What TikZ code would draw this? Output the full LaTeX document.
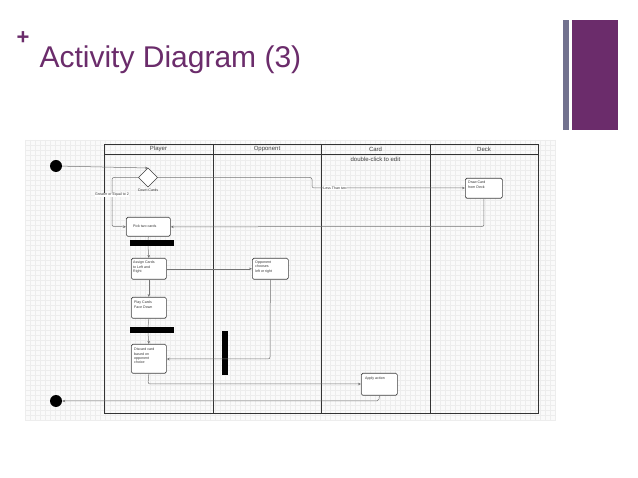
\documentclass[tikz,border=0pt]{standalone}
\usepackage{fontspec}
\setmainfont{Liberation Sans}
\usetikzlibrary{arrows.meta}
\definecolor{plum}{HTML}{6B2C6B}
\definecolor{slate}{HTML}{72728F}
\tikzset{
 act/.style={draw=black!75,line width=0.7pt,rounded corners=1.5pt,fill=white,anchor=north west,inner sep=0pt},
 txt/.style={anchor=north west,align=left,inner sep=0pt,font=\fontsize{3.6}{4.2}\selectfont,text=black!80},
 flow/.style={draw=black!55,line width=0.5pt,-{Stealth[length=3pt,width=2.5pt]},rounded corners=2pt},
 plain/.style={draw=black!55,line width=0.5pt,rounded corners=2pt},
 bar/.style={fill=black,draw=none},
 lane/.style={draw=black!80,line width=0.9pt},
 hdr/.style={font=\fontsize{6}{7}\selectfont,text=black!75},
 lbl/.style={font=\fontsize{3.6}{4}\selectfont,text=black!80,fill=white,inner sep=0.5pt},
}
\begin{document}
\begin{tikzpicture}[x=1pt,y=-1pt]
\useasboundingbox (0,0) rectangle (638,478);
\fill[white] (0,0) rectangle (638,478);
% title
\node[text=plum,font=\fontsize{22}{22}\selectfont\bfseries] (plus) at (23,38) {+};
\node[text=plum,font=\fontsize{30}{32}\selectfont,anchor=west] (title) at (36,60) {Activity Diagram (3)};
\fill[slate] (563,20) rectangle (569,130);
\fill[plum] (572,20) rectangle (618,130);
% grid
\fill[black!2] (25,140) rectangle (556,420);
\foreach \x in {25,30,...,555} \draw[black!7,line width=0.2pt] (\x,140) -- (\x,420);
\foreach \y in {140,145,...,420} \draw[black!7,line width=0.2pt] (25,\y) -- (556,\y);
% lanes
\draw[lane] (104,144) rectangle (538,413);
\draw[lane] (104,154) -- (538,154);
\foreach \x in {213,321,430} \draw[lane] (\x,144) -- (\x,413);
\node[hdr] (h1) at (158.5,149) {Player};
\node[hdr] (h2) at (267,149) {Opponent};
\node[hdr] (h3) at (375.5,149) {Card};
\node[hdr] (h4) at (484,149) {Deck};
\node[hdr] (dc) at (375.5,159) {double-click to edit};
% nodes
\node[circle,fill=black,minimum size=12pt,inner sep=0] (start) at (56,166) {};
\node[circle,fill=black,minimum size=12pt,inner sep=0] (end) at (56,401) {};
\coordinate (dT) at (148,168); \coordinate (dB) at (148,187);
\coordinate (dW) at (138.5,177.5); \coordinate (dE) at (157.5,177.5);
\draw[draw=black!75,line width=0.7pt,fill=white] (dT) -- (dE) -- (dB) -- (dW) -- cycle;
\node[lbl,fill=none] (cc) at (148,190) {Count Cards};
\node[act,minimum width=37pt,minimum height=20pt] (draw) at (465,178) {};
\node[txt] at (468,181) {Draw Card\\from Deck};
\node[act,minimum width=44pt,minimum height=19pt] (pick) at (126,217) {};
\node[txt] at (133,224.5) {Pick two cards};
\fill[bar] (130,240) rectangle (174,246);
\coordinate (b1) at (148,240); \coordinate (b1b) at (148,246);
\node[act,minimum width=35pt,minimum height=21pt] (assign) at (131,258) {};
\node[txt] at (133,261) {Assign Cards\\to Left and\\Right};
\node[act,minimum width=36pt,minimum height=21pt] (opp) at (252,258) {};
\node[txt] at (255,261) {Opponent\\chooses\\left or right};
\node[act,minimum width=35pt,minimum height=21pt] (play) at (131,297) {};
\node[txt] at (134,301) {Play Cards\\Face Down};
\fill[bar] (130,327) rectangle (174,333);
\coordinate (b2) at (148,327); \coordinate (b2b) at (148,333);
\node[act,minimum width=35pt,minimum height=29pt] (disc) at (131,344) {};
\node[txt] at (134,348) {Discard card\\based on\\opponent\\choice};
\fill[bar] (222,331) rectangle (228,375);
\node[act,minimum width=36pt,minimum height=22pt] (apply) at (361,373) {};
\node[txt] at (365,377) {Apply action};
% connectors
\draw[flow] (start) -- (dT);
\draw[flow] (dW) -- (112,177.5) -- (112,226.5) -- (pick.west);
\node[lbl] (ge) at (112,195) {Greater or Equal to 2};
\draw[flow] (dE) -- (312,177.5) -- (312,188) -- (draw.west |- 0,188);
\node[lbl] (lt) at (335,188) {Less Than two};
\draw[flow] (draw.south) -- (484,226.5) -- (pick.east);
\draw[plain] (pick.south) -- (b1);
\draw[flow] (b1b) -- (assign.north);
\draw[flow] (assign.east) -- (opp.west);
\draw[flow] (assign.south) -- (play.north);
\draw[plain] (play.south) -- (b2);
\draw[flow] (b2b) -- (disc.north);
\draw[flow] (opp.south) -- (270,359) -- (disc.east |- 0,359);
\draw[flow] (disc.south) -- (148,384) -- (apply.west |- 0,384);
\draw[flow] (apply.south) -- (379,401) -- (end.east);
\end{tikzpicture}
\end{document}
